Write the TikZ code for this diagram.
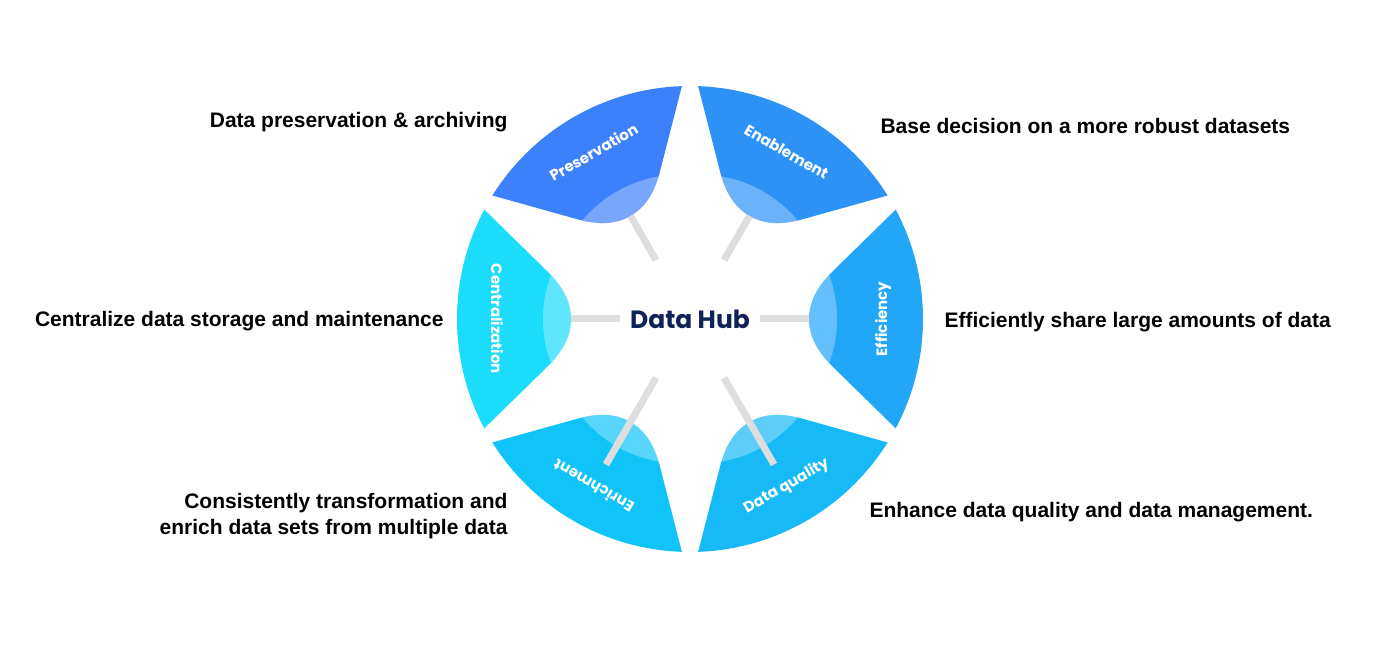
\documentclass[tikz,border=0pt]{standalone}
\usepackage{fontspec}
\setmainfont{Liberation Sans}
\newfontfamily\petalfont{Poppins}
\usetikzlibrary{calc}
\definecolor{hub}{HTML}{0F2356}
\begin{document}
\begin{tikzpicture}[x=1pt,y=1pt,
  outer/.style={font=\bfseries\fontsize{21}{26}\selectfont,text=black},
  plabel/.style={font=\petalfont\bfseries\fontsize{15}{18}\selectfont,text=white},
  spoke/.style={draw=black!13,line width=7pt}]
\useasboundingbox (0,0) rectangle (1392,647);
\coordinate (c) at (690,328);
\def\petal{(-28:233) arc[start angle=-28,end angle=28,radius=233] -- (142,47) .. controls (128,33) and (119,18) .. (119,0) .. controls (119,-18) and (128,-33) .. (142,-47) -- cycle}
\foreach \ang/\col in {120/3D80FB,60/2C92F6,0/22A6F8,300/17B9F6,240/10C3F9,180/1CDCFC}{
  \definecolor{pc}{HTML}{\col}
  \begin{scope}[shift={(c)},rotate=\ang]
    \fill[pc] \petal;
    \begin{scope}
      \clip \petal;
      \fill[white,opacity=0.3] (20,0) circle[radius=127];
    \end{scope}
  \end{scope}
}
% spokes
\foreach \ang/\ra/\rb/\nm in {120/68/119/sA,60/68/119/sB,0/70/119/sC,300/68/168/sD,240/68/168/sE,180/70/119/sF}{
  \coordinate (\nm1) at ($(c)+(\ang:\ra)$);
  \coordinate (\nm2) at ($(c)+(\ang:\rb)$);
  \draw[spoke] (\nm1) -- (\nm2);
}
% petal labels
\foreach \ang/\rot/\txt/\nm in {120/30/Preservation/lA,60/-30/Enablement/lB,0/90/Efficiency/lC,300/30/Data quality/lD,240/150/Enrichment/lE,180/-90/Centralization/lF}{
  \node[plabel,rotate=\rot] (\nm) at ($(c)+(\ang:193)$) {\txt};
}
\node[font=\petalfont\fontsize{25}{30}\selectfont\bfseries,text=hub] (hubn) at (c) {Data Hub};
% outer texts
\node[outer,anchor=east] (t1) at (511,525) {Data preservation \& archiving};
\node[outer,anchor=west] (t2) at (877,521) {Base decision on a more robust datasets};
\node[outer,anchor=east] (t3) at (447,326) {Centralize data storage and maintenance};
\node[outer,anchor=west] (t4) at (941,325) {Efficiently share large amounts of data};
\node[outer,anchor=east,align=right] (t5) at (511,131) {Consistently transformation and\\enrich data sets from multiple data};
\node[outer,anchor=west] (t6) at (866,135) {Enhance data quality and data management.};
\end{tikzpicture}
\end{document}
